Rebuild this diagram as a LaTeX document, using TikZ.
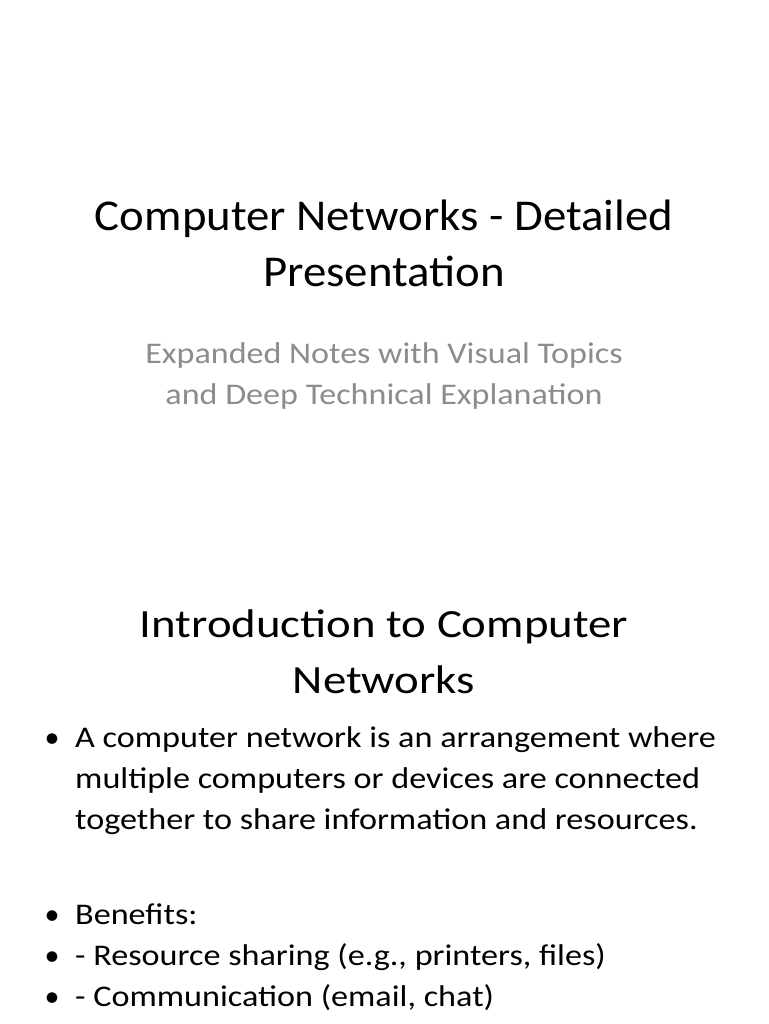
\documentclass[tikz,border=0pt]{standalone}
\usepackage{fontspec}
\setmainfont{Carlito}
\newfontfamily\fttl{Carlito}[FakeStretch=1.064]
\newfontfamily\fsub{Carlito}[FakeStretch=1.136]
\newfontfamily\fhd{Carlito}[FakeStretch=1.17]
\newfontfamily\fbl{Carlito}[FakeStretch=1.139]
\begin{document}
\begin{tikzpicture}[x=1pt,y=-1pt,
  ttl/.style={anchor=base,font=\fttl\fontsize{44}{50}\selectfont},
  sub/.style={anchor=base,font=\fsub\fontsize{30}{36}\selectfont,text=black!45},
  hd/.style={anchor=base,font=\fhd\fontsize{40}{48}\selectfont},
  bl/.style={anchor=base west,font=\fbl\fontsize{30}{36}\selectfont,inner sep=0pt},
  dot/.style={anchor=base,font=\fontsize{30}{36}\selectfont,inner sep=0pt}]
\useasboundingbox (0,0) rectangle (768,1024);
\node[ttl] (t1) at (384,230) {Computer Networks - Detailed};
\node[ttl] (t2) at (384,286) {Presentation};
\node[sub] (s1) at (384,363) {Expanded Notes with Visual Topics};
\node[sub] (s2) at (384,404) {and Deep Technical Explanation};
\node[hd] (h1) at (384,637) {Introduction to Computer};
\node[hd] (h2) at (384,693) {Networks};
\foreach \y/\t/\d [count=\i] in {
 747/{A computer network is an arrangement where}/1,
 788/{multiple computers or devices are connected}/0,
 829/{together to share information and resources.}/0,
 924/{Benefits:}/1,
 965/{- Resource sharing (e.g., printers, files)}/1,
 1006/{- Communication (email, chat)}/1}{
 \node[bl] (b\i) at (75,\y) {\t};
 \ifnum\d=1 \node[dot] (d\i) at (52,\y) {•};\fi
}
\end{tikzpicture}
\end{document}
